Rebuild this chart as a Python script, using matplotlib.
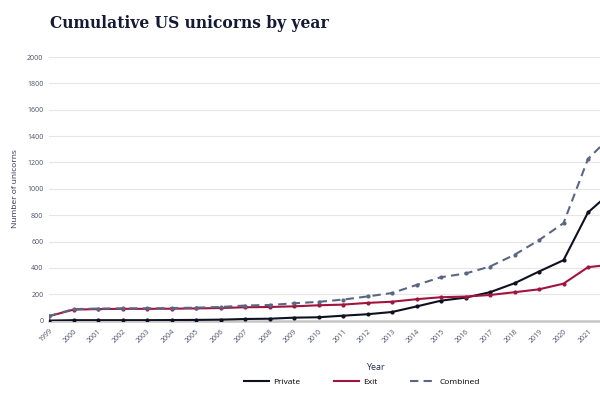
import matplotlib
matplotlib.use("Agg")
import matplotlib.pyplot as plt

# values
years = list(range(1999, 2023))
private = [1, 4, 4, 4, 4, 5, 6, 8, 13, 15, 23, 26, 38, 49, 66, 108,
           152, 175, 216, 284, 373, 459, 821, 985]
exits = [34, 84, 88, 90, 90, 91, 93, 96, 102, 104, 109, 117, 122, 135, 144, 163,
         178, 183, 195, 216, 238, 281, 406, 426]
combined = [p + e for p, e in zip(private, exits)]
y_ticks = list(range(0, 2001, 200))

c_private = "#0f1020"
c_exit = "#a0153e"
c_comb = "#5b6782"
c_text = "#4a5068"

plt.rcParams["font.family"] = ["Open Sans", "DejaVu Sans"]

fig = plt.figure(figsize=(6, 4), dpi=100)
# axes run past the right edge, the reference is cropped there
ax = fig.add_axes([49 / 600, 79.3 / 400, 563.5 / 600, 263.7 / 400])

ax.plot(years, private, color=c_private, lw=1.5, marker="o", ms=2, label="Private")
ax.plot(years, exits, color=c_exit, lw=1.5, marker="o", ms=2, label="Exit")
ax.plot(years, combined, color=c_comb, lw=1.5, marker="o", ms=2,
        dashes=(4, 2.5), label="Combined")

ax.set_xlim(1999, 2022)
ax.set_ylim(0, 2000)
ax.set_yticks(y_ticks)
ax.set_yticklabels([str(v) for v in y_ticks], fontsize=5, color=c_text)
ax.set_xticks(years)
ax.set_xticklabels([str(y) for y in years], fontsize=5, color=c_text,
                   rotation=45, ha="right", rotation_mode="anchor")
ax.tick_params(length=0, pad=4)
ax.tick_params(axis="x", pad=5)

ax.grid(axis="y", color="#e6e6e6", lw=0.8)
ax.set_axisbelow(True)
for s in ["top", "right", "left"]:
    ax.spines[s].set_visible(False)
ax.spines["bottom"].set_color("#c4c4c4")
ax.spines["bottom"].set_linewidth(1.8)
ax.spines["bottom"].set_zorder(0.5)

ax.set_ylabel("Number of unicorns", fontsize=6, color="#2a3050", labelpad=6)
fig.text(375 / 600, 1 - 368 / 400, "Year", fontsize=6.5, color="#2a3050",
         ha="center", va="center")

fig.text(50 / 600, 1 - 23 / 400, "Cumulative US unicorns by year",
         fontsize=11.2, fontweight="bold", family="DejaVu Serif",
         color="#141a33", ha="left", va="center")

fig.legend(loc="center", bbox_to_anchor=(362 / 600, 1 - 382 / 400), ncol=3,
           frameon=False, fontsize=6, handlelength=3, columnspacing=4,
           handletextpad=0.5, markerscale=0)

fig.savefig("out.png", dpi=100, facecolor="white")
